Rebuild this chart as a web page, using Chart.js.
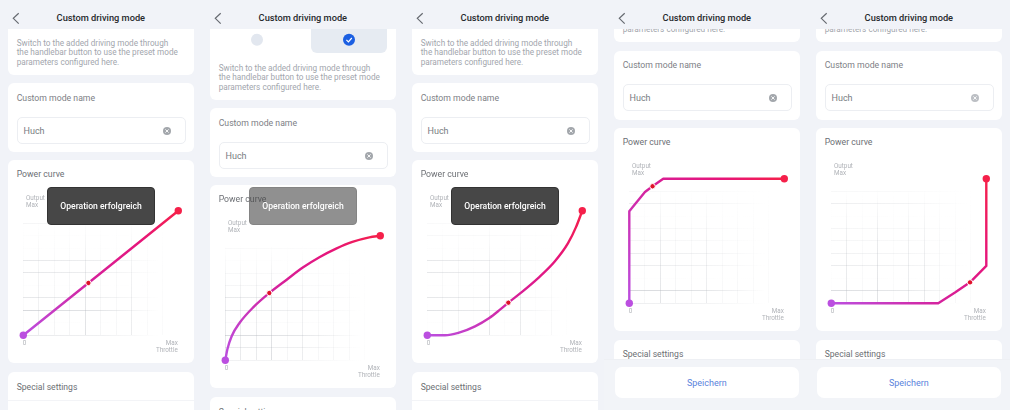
<!DOCTYPE html>
<html><head><meta charset="utf-8">
<script src="https://cdn.jsdelivr.net/npm/chart.js@4"></script>
<style>
html,body{margin:0;padding:0;width:1010px;height:410px;overflow:hidden;background:#f1f3f8;font-family:Roboto,sans-serif}
#stage{position:absolute;left:0;top:0;width:1010px;height:410px;overflow:hidden}
.box{position:absolute;box-sizing:border-box}
.card{background:#fff;border-radius:6px}
.t{position:absolute;white-space:nowrap;transform:translateY(-50%);line-height:1}
canvas{position:absolute}
</style></head><body><div id="stage"></div>
<script>
// Throttle (x) and output (y) of each power curve, in percent of maximum
const throttle1=[0,42,100];
const output1=[0,42,100];
const throttle2=[0,1.3,4.1,9.5,18,28.4,39.6,50,60.7,71.5,82,92.9,100];
const output2=[0,8.6,19.3,30.5,42.5,54,64.7,74.4,82.7,89.6,95,98.7,100];
const throttle3=[0,11.4,20,30.8,40,46.9,52.3,60.7,71.5,82.2,90.8,96,100];
const output3=[0,0,1.9,7.2,13.9,20.6,26.2,34.4,45.9,59.2,73.9,87,100];
const throttle4=[0,0,2.6,10.1,15,21.9,100];
const output4=[0,73.8,77.8,89.3,93.9,100,100];
const throttle5=[0,69,79.8,89.5,100,100];
const output5=[0,0,8.6,16.8,30,100];
const midIndex=[1,5,6,4,3];
const xTicks=[0,10,20,30,40,50,60,70,80,90,100];
const yTicks=[0,10,20,30,40,50,60,70,80,90,107];
const xTickLabels={0:'0',100:['Max','Throttle']};
const yTickLabels={107:['Output','Max']};
const title='Custom driving mode';
const descriptionLines=['Switch to the added driving mode through','the handlebar button to use the preset mode','parameters configured here.'];

// Grid line strength per panel, one entry per tick
const gridV=[
 [.10,.35,.22,.22,.6,.2,.18,.4,.12,.1,0],
 [.5,.45,.45,.65,.2,.4,.18,.18,.15,.05,0],
 [.02,.2,.25,.05,.5,.06,.45,.06,.15,.03,0],
 [.02,.15,.55,.2,.18,.4,.15,.15,.12,.1,0],
 [.02,.5,.15,.6,.1,.45,.45,.2,.15,.1,0]];
const gridH=[
 [.45,.03,.8,.5,.03,.5,.5,.03,.03,.2,0],
 [.3,.45,.75,.1,.45,.45,.2,.15,.03,.12,0],
 [.25,.03,.6,.5,.03,.5,.5,.03,.15,.12,0],
 [.35,.8,.03,.4,.4,.2,.2,.03,.35,.15,0],
 [.1,.7,.03,.4,.3,.2,.2,.03,.35,.15,0]];

const panels=[
 {dx:0,dy:0,toast:1},
 {dx:202,dy:25,toast:.6,selector:true},
 {dx:404,dy:0,toast:1},
 {dx:606,dy:-32.3,saveBar:true,clear:'#a3a7ac'},
 {dx:808,dy:-32.3,saveBar:true,clear:'#bcbfc4'}];
const series=[[throttle1,output1,false],[throttle2,output2,true],[throttle3,output3,true],[throttle4,output4,false],[throttle5,output5,false]];

const stage=document.getElementById('stage');
function box(p,cls,x,y,w,h,css){const e=document.createElement('div');e.className='box '+cls;
 e.style.cssText=`left:${p.dx+x}px;top:${y}px;width:${w}px;height:${h}px;${css||''}`;stage.appendChild(e);return e;}
function text(p,x,y,s,css){const e=document.createElement('div');e.className='t';e.textContent=s;
 e.style.cssText=`left:${p.dx+x}px;top:${y}px;${css||''}`;stage.appendChild(e);return e;}
function svg(p,x,y,w,h,inner){const e=box(p,'',x,y,w,h);e.innerHTML=`<svg width="${w}" height="${h}" viewBox="0 0 ${w} ${h}" style="display:block">${inner}</svg>`;return e;}

panels.forEach((p,i)=>{
 const d=p.dy;
 // top card
 box(p,'card',8.3,0,185.4,74.7+d);
 if(p.selector){
  box(p,'',109.3,20,76,33,'background:#e6ebf2;border-radius:6px');
  svg(p,48,33,14,14,'<circle cx="7" cy="6.7" r="6" fill="#e2e7ef"/>');
  svg(p,140,33,14,14,'<circle cx="7" cy="6.7" r="6" fill="#1b5fe2"/><path d="M4.4 6.8l2 2 3.4-3.8" fill="none" stroke="#fff" stroke-width="1.2"/>');
 }
 descriptionLines.forEach((l,k)=>text(p,16.7,42.5+9.6*k+d,l,'font-size:8.2px;color:#a2a6ad'));
 // name card
 box(p,'card',8.3,83.3+d,185.4,68.7);
 text(p,16.7,97.7+d,'Custom mode name','font-size:8.7px;color:#7d8086');
 box(p,'',16.5,116.7+d,169,27,'border:1px solid #eceef2;border-radius:5px;background:#fff');
 text(p,23.5,130.5+d,'Huch','font-size:9px;color:#777b81');
 svg(p,162,125.5+d,10,10,`<circle cx="5" cy="5" r="4" fill="${p.clear||'#a3a7ac'}"/><path d="M3.4 3.4l3.2 3.2M6.6 3.4l-3.2 3.2" stroke="#fff" stroke-width=".9"/>`);
 // power card
 box(p,'card',8.3,160+d,185.4,203.4);
 text(p,16.7,174+d,'Power curve','font-size:8.7px;color:#6c6f74');
 // chart
 const c=document.createElement('canvas');c.width=185;c.height=172;
 c.style.cssText=`left:${p.dx+5}px;top:${188+d}px;width:185px;height:172px`;stage.appendChild(c);
 const [xs,ys,smooth]=series[i];
 const mid=midIndex[i];
 const gv=gridV[i],gh=gridH[i];
 const pts=xs.map((x,k)=>({x,y:ys[k]}));
 function lineGrad(ctx){
  const ch=ctx.chart,a=ch.chartArea;if(!a)return '#dd1f90';
  const X=ch.scales.x,Y=ch.scales.y;
  const g=ch.ctx.createLinearGradient(X.getPixelForValue(0),Y.getPixelForValue(0),X.getPixelForValue(100),Y.getPixelForValue(100));
  g.addColorStop(0,'#bb4fe0');g.addColorStop(.45,'#d6209a');g.addColorStop(.75,'#e6157a');g.addColorStop(1,'#f5204a');return g;
 }
 function gridColor(ctx,horizontal){
  const ch=ctx.chart,a=ch.chartArea,tick=ctx.tick;
  if(!tick||!a)return 'transparent';
  const k=(horizontal?yTicks:xTicks).indexOf(tick.value);
  const al=((horizontal?gh:gv)[k]||0)*.62;
  if(!al)return 'transparent';
  const X=ch.scales.x,Y=ch.scales.y;
  const g=horizontal?ch.ctx.createLinearGradient(X.getPixelForValue(0),0,X.getPixelForValue(88),0)
                    :ch.ctx.createLinearGradient(0,Y.getPixelForValue(0),0,Y.getPixelForValue(92));
  g.addColorStop(0,`rgba(175,179,186,${al})`);g.addColorStop(.55,`rgba(175,179,186,${al*.7})`);g.addColorStop(1,'rgba(175,179,186,0)');
  return g;
 }
 const tickFont={family:'Roboto',size:6.3,lineHeight:1.1};
 new Chart(c,{type:'line',
  data:{datasets:[{data:pts,parsing:false,clip:false,cubicInterpolationMode:smooth?'monotone':'default',tension:0,
   borderWidth:2.4,borderCapStyle:'round',borderJoinStyle:'round',borderColor:lineGrad,
   pointRadius:ctx=>ctx.dataIndex===mid?2.7:(ctx.dataIndex===0||ctx.dataIndex===pts.length-1)?3.7:0,
   pointHoverRadius:0,
   pointBackgroundColor:ctx=>ctx.dataIndex===0?'#bb4fe0':ctx.dataIndex===mid?'#e0102a':'#f5204a',
   pointBorderColor:ctx=>ctx.dataIndex===mid?'#fff':'transparent',
   pointBorderWidth:ctx=>ctx.dataIndex===mid?1:0}]},
  options:{responsive:false,animation:false,events:[],devicePixelRatio:1,
   layout:{autoPadding:false,padding:{left:18.3,right:11.7,top:10.24,bottom:0}},
   plugins:{legend:{display:false},tooltip:{enabled:false}},
   scales:{
    x:{type:'linear',min:0,max:100,border:{display:false},
     afterBuildTicks:s=>{s.ticks=xTicks.map(v=>({value:v}));},
     afterFit:s=>{s.height=24.7;},
     grid:{drawTicks:false,lineWidth:1,color:ctx=>gridColor(ctx,false)},
     ticks:{autoSkip:false,maxRotation:0,align:'inner',labelOffset:-.5,padding:5,color:'#b0b3b8',font:tickFont,
      callback:v=>xTickLabels[v]||''}},
    y:{type:'linear',min:0,max:110,border:{display:false},
     afterBuildTicks:s=>{s.ticks=yTicks.map(v=>({value:v}));},
     afterFit:s=>{s.width=0;},
     grid:{drawTicks:false,lineWidth:1,color:ctx=>gridColor(ctx,true)},
     ticks:{autoSkip:false,mirror:true,padding:2.7,color:'#b0b3b8',font:tickFont,
      callback:v=>yTickLabels[v]||''}}
   }}});
 // special settings
 box(p,'card',8.3,372.3+d,185.4,80);
 text(p,16.7,386.7+d,'Special settings','font-size:8.6px;color:#6c6f74');
 box(p,'',8.3,400+d,185.4,1,'background:#f3f4f7');
 // toast
 if(p.toast){
  const tb=box(p,'',47.3,187.3,107.4,37.7,`background:#474747;border-radius:4px;border:.5px solid #333;opacity:${p.toast}`);
  const tt=document.createElement('div');tt.textContent='Operation erfolgreich';
  tt.style.cssText='position:absolute;left:0;right:0;top:50%;transform:translateY(-50%);text-align:center;font-size:8.6px;font-weight:500;color:#fff;line-height:1';
  tb.appendChild(tt);
 }
 // bottom bar
 if(p.saveBar){
  box(p,'',-2,359,204,51,'background:#f2f4f8;border-top:1px solid #eef0f4');
  box(p,'',9,367.3,183.7,30.7,'background:#fff;border-radius:7px');
  text(p,0,383,'Speichern','font-size:9px;color:#5a83dc;width:201.7px;text-align:center');
 }
 // header
 box(p,'',-2,0,204,29,'background:#f1f3f8');
 svg(p,12,12,8,13,'<polyline points="6.7,1.3 1.3,6.3 6.7,11.7" fill="none" stroke="#666a70" stroke-width="1.2"/>');
 text(p,0,18,title,'font-size:9.25px;font-weight:500;color:#26282c;width:201.7px;text-align:center');
});
</script></body></html>
